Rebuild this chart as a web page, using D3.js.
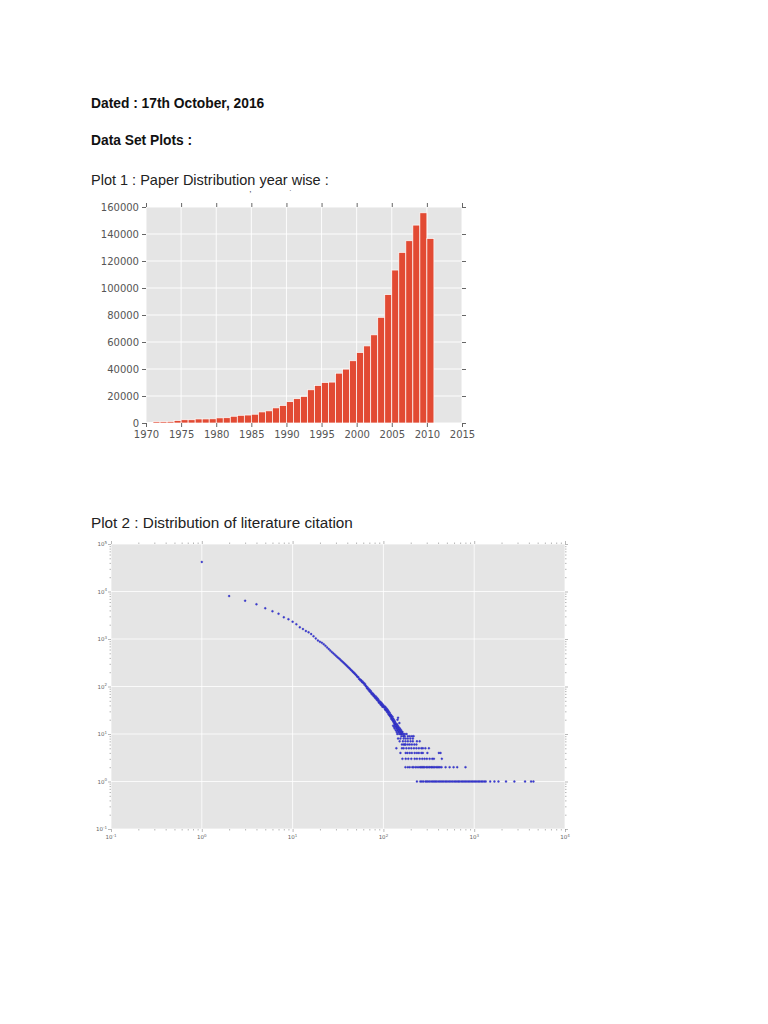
<!DOCTYPE html>
<html>
<head>
<meta charset="utf-8">
<script src="https://cdn.jsdelivr.net/npm/d3@7"></script>
<style>
  body { margin: 0; background: #fff; }
  svg { display: block; }
</style>
</head>
<body>
<div id="page"></div>
<script>
// Plot 1 data: papers per year
const years = [1970, 1971, 1972, 1973, 1974, 1975, 1976, 1977, 1978, 1979,
  1980, 1981, 1982, 1983, 1984, 1985, 1986, 1987, 1988, 1989,
  1990, 1991, 1992, 1993, 1994, 1995, 1996, 1997, 1998, 1999,
  2000, 2001, 2002, 2003, 2004, 2005, 2006, 2007, 2008, 2009, 2010];
const paperCounts = [500, 1000, 1000, 1200, 1800, 2400, 2400, 3000, 3000, 3100,
  3800, 3900, 5000, 5700, 5900, 6500, 8200, 9000, 11200, 13000,
  15800, 18000, 19700, 24600, 27800, 30000, 30300, 36900, 39900, 46100,
  52200, 57100, 65300, 78300, 95100, 113300, 126400, 135000, 146600, 155700, 136700];
const yearTicks = [1970, 1975, 1980, 1985, 1990, 1995, 2000, 2005, 2010, 2015];
const countTicks = [0, 20000, 40000, 60000, 80000, 100000, 120000, 140000, 160000];

// Plot 2 data: [citations, number of papers]
const headPoints = [[1, 42000], [2, 8000], [3, 6400], [4, 5370], [5, 4430], [6, 3830], [7, 3410],
  [8, 2860], [9, 2600], [10, 2310], [11, 2040], [12, 1760], [13, 1620], [14, 1470], [15, 1380],
  [16, 1270], [17, 1140], [18, 1030], [19, 930], [20, 870], [21, 830], [22, 775], [23, 720],
  [24, 665], [25, 615], [26, 572], [27, 535], [28, 502], [29, 472], [30, 445], [31, 420],
  [32, 398], [33, 378], [34, 358], [35, 340], [36, 323], [37, 308], [38, 293], [39, 280],
  [40, 267], [41, 255], [42, 244], [43, 233], [44, 223], [45, 214], [46, 205], [47, 197],
  [48, 189], [49, 182], [50, 175]];
const bandPoints = [[51, 167], [52, 159], [53, 156], [54, 144], [55, 142], [56, 134], [57, 135],
  [58, 125], [59, 127], [60, 118], [61, 119], [62, 109], [63, 112], [64, 102], [65, 100], [66, 92],
  [67, 95], [68, 86], [69, 89], [70, 80], [71, 84], [72, 76], [73, 79], [74, 70], [75, 73],
  [76, 67], [77, 70], [78, 63], [79, 66], [80, 61], [81, 58], [82, 62], [83, 55], [84, 59],
  [85, 52], [86, 56], [87, 50], [88, 53], [89, 46], [90, 49], [91, 45], [92, 48], [93, 42],
  [94, 46], [95, 41], [96, 44], [97, 38], [98, 42], [99, 37], [100, 40], [102, 36], [103, 38],
  [104, 33], [105, 37], [106, 32], [107, 35], [108, 31], [109, 34], [110, 29], [111, 32],
  [112, 28], [113, 31], [114, 26], [115, 29], [116, 25], [117, 28], [118, 24], [119, 26],
  [120, 23], [121, 25], [122, 21], [123, 24], [124, 22], [125, 20], [126, 23], [127, 19],
  [128, 21], [129, 18], [130, 20], [131, 17], [132, 19], [133, 16], [134, 18], [135, 15],
  [136, 17], [137, 16], [138, 14], [139, 15], [140, 13], [141, 16], [142, 14], [143, 12],
  [144, 15], [145, 13], [146, 11], [147, 14], [148, 12], [150, 13], [152, 11], [153, 12],
  [155, 10], [157, 11], [159, 10], [162, 11], [164, 10], [166, 9], [170, 9],
  [143, 20], [150, 17], [145, 22], [140, 11], [150, 11], [160, 11], [137, 12], [148, 12],
  [157, 12], [133, 13], [145, 13], [152, 13], [131, 14], [141, 14], [128, 15], [137, 15]];
const rowPapers = [10, 9, 8, 7, 6, 5, 4, 3, 2, 1];
const rowCitations = [
  [142, 149, 156, 163, 172, 180],
  [158, 171, 186, 195, 206, 215],
  [145, 154, 167, 176, 186, 198, 211],
  [151, 164, 175, 186, 199, 211, 234, 251],
  [160, 167, 172, 176, 186, 195, 206, 219, 231],
  [139, 160, 167, 179, 191, 203, 217, 231, 246, 262, 272, 290, 317],
  [154, 176, 184, 195, 206, 221, 234, 246, 262, 272, 305, 408, 426],
  [162, 176, 188, 203, 221, 234, 251, 268, 284, 301, 323, 345, 360, 440],
  [175, 186, 195, 208, 215, 226, 235, 246, 255, 262, 270, 277, 285, 297, 305, 317, 325, 337,
    345, 357, 368, 382, 395, 408, 420, 437, 484, 536, 593, 650, 802],
  [234, 255, 265, 275, 290, 300, 310, 322, 335, 348, 360, 372, 385, 400, 415, 430, 445, 462,
    480, 497, 515, 535, 555, 577, 600, 622, 645, 668, 690, 718, 745, 772, 800, 830, 860, 892,
    925, 960, 995, 1030, 1070, 1110, 1150, 1195, 1240, 1290, 1340, 1500, 1670, 1850, 2240,
    2770, 3630, 4230, 4490]
];
const logTicks = [0.1, 1, 10, 100, 1000, 10000];
const logTicksY = [0.1, 1, 10, 100, 1000, 10000, 100000];
const tickExps = ['-1', '0', '1', '2', '3', '4', '5'];

const svg = d3.select('#page').append('svg')
  .attr('width', 768)
  .attr('height', 1024);

svg.append('rect').attr('width', 768).attr('height', 1024).attr('fill', '#fff');

// headings
const heads = [
  { t: 'Dated : 17th October, 2016', y: 108, size: '13.8px', bold: true },
  { t: 'Data Set Plots :', y: 145, size: '13.8px', bold: true },
  { t: 'Plot 1 : Paper Distribution year wise :', y: 185, size: '14.5px', bold: false },
  { t: 'Plot 2 : Distribution of literature citation', y: 528, size: '15.3px', bold: false }
];
svg.selectAll('.head')
  .data(heads)
  .enter().append('text')
  .attr('class', 'head')
  .attr('x', 91)
  .attr('y', d => d.y)
  .style('font-family', '"Liberation Sans", Arial, sans-serif')
  .style('font-size', d => d.size)
  .style('font-weight', d => d.bold ? 'bold' : 'normal')
  .style('fill', d => d.bold ? '#111' : '#222')
  .text(d => d.t);

// stray marks above plot 1
svg.append('text').attr('x', 249).attr('y', 197).style('font-size', '8px').style('fill', '#444').text('ʼ');
svg.append('text').attr('x', 289).attr('y', 196).style('font-size', '8px').style('fill', '#444').text('˙');

// ---------- Plot 1 ----------
const x1 = d3.scaleLinear().domain([1970, 2015]).range([146, 462]);
const y1 = d3.scaleLinear().domain([0, 160000]).range([423, 207]);

const p1 = svg.append('g');
p1.append('rect')
  .attr('x', x1(1970)).attr('y', y1(160000))
  .attr('width', x1(2015) - x1(1970)).attr('height', y1(0) - y1(160000))
  .attr('fill', '#e5e5e5');

p1.selectAll('.vgrid').data(yearTicks).enter().append('line')
  .attr('x1', d => x1(d)).attr('x2', d => x1(d))
  .attr('y1', y1(0)).attr('y2', y1(160000))
  .style('stroke', '#fff').style('stroke-width', 0.9);
p1.selectAll('.hgrid').data(countTicks).enter().append('line')
  .attr('x1', x1(1970)).attr('x2', x1(2015))
  .attr('y1', d => y1(d)).attr('y2', d => y1(d))
  .style('stroke', '#fff').style('stroke-width', 0.9);

p1.selectAll('.bar')
  .data(years)
  .enter().append('rect')
  .attr('class', 'bar')
  .attr('x', d => x1(d))
  .attr('width', d => x1(d + 1) - x1(d))
  .attr('y', (d, i) => y1(paperCounts[i]))
  .attr('height', (d, i) => y1(0) - y1(paperCounts[i]))
  .style('fill', '#e24a33')
  .style('stroke', '#fff')
  .style('stroke-width', 0.7);

function styleAxis(g, size) {
  g.select('.domain').remove();
  g.selectAll('.tick line').style('stroke', '#666');
  g.selectAll('.tick text')
    .style('fill', '#555')
    .style('font-family', '"DejaVu Sans", sans-serif')
    .style('font-size', size);
}

p1.append('g').attr('transform', `translate(0,${y1(0)})`)
  .call(d3.axisBottom(x1).tickValues(yearTicks).tickFormat(d3.format('d')).tickSize(4).tickPadding(4))
  .call(g => styleAxis(g, '10px'));
p1.append('g').attr('transform', `translate(0,${y1(160000)})`)
  .call(d3.axisTop(x1).tickValues(yearTicks).tickFormat('').tickSize(4))
  .call(g => styleAxis(g, '10px'));
p1.append('g').attr('transform', `translate(${x1(1970)},0)`)
  .call(d3.axisLeft(y1).tickValues(countTicks).tickFormat(d3.format('d')).tickSize(4).tickPadding(3))
  .call(g => styleAxis(g, '10px'));
p1.append('g').attr('transform', `translate(${x1(2015)},0)`)
  .call(d3.axisRight(y1).tickValues(countTicks).tickFormat('').tickSize(4))
  .call(g => styleAxis(g, '10px'));

// ---------- Plot 2 ----------
const x2 = d3.scaleLog().domain([0.1, 10000]).range([111, 565]);
const y2 = d3.scaleLog().domain([0.1, 100000]).range([829, 544]);

const p2 = svg.append('g');
p2.append('rect')
  .attr('x', x2(0.1)).attr('y', y2(100000))
  .attr('width', x2(10000) - x2(0.1)).attr('height', y2(0.1) - y2(100000))
  .attr('fill', '#e5e5e5');

p2.selectAll('.vgrid').data(logTicks).enter().append('line')
  .attr('x1', d => x2(d)).attr('x2', d => x2(d))
  .attr('y1', y2(0.1)).attr('y2', y2(100000))
  .style('stroke', '#fff').style('stroke-width', 0.8);
p2.selectAll('.hgrid').data(logTicksY).enter().append('line')
  .attr('x1', x2(0.1)).attr('x2', x2(10000))
  .attr('y1', d => y2(d)).attr('y2', d => y2(d))
  .style('stroke', '#fff').style('stroke-width', 0.8);

const minorX = x2.ticks().filter(v => !logTicks.includes(v));
const minorY = y2.ticks().filter(v => !logTicksY.includes(v));

function logAxes(axis, scale, majors, minors) {
  return [
    axis(scale).tickValues(majors).tickFormat('').tickSize(3),
    axis(scale).tickValues(minors).tickFormat('').tickSize(1.5)
  ];
}
const axisPlaces = [
  [d3.axisBottom, x2, logTicks, minorX, `translate(0,${y2(0.1)})`],
  [d3.axisTop, x2, logTicks, minorX, `translate(0,${y2(100000)})`],
  [d3.axisLeft, y2, logTicksY, minorY, `translate(${x2(0.1)},0)`],
  [d3.axisRight, y2, logTicksY, minorY, `translate(${x2(10000)},0)`]
];
axisPlaces.forEach(([axis, scale, majors, minors, tr]) => {
  logAxes(axis, scale, majors, minors).forEach(a => {
    p2.append('g').attr('transform', tr).call(a)
      .call(g => { g.select('.domain').remove(); g.selectAll('.tick line').style('stroke', '#888').style('stroke-width', 0.6); });
  });
});

// tick labels 10^n
function powLabel(sel) {
  sel.style('font-family', '"DejaVu Sans", sans-serif')
    .style('font-size', '5.5px')
    .style('fill', '#666');
  sel.append('tspan').text('10');
  sel.append('tspan').attr('dy', -2.5).style('font-size', '4px').text((d, i) => tickExps[i]);
}
p2.selectAll('.xlab').data(logTicks).enter().append('text')
  .attr('x', d => x2(d)).attr('y', y2(0.1) + 10)
  .attr('text-anchor', 'middle')
  .call(powLabel);
p2.selectAll('.ylab').data(logTicksY).enter().append('text')
  .attr('x', x2(0.1) - 4).attr('y', d => y2(d) + 2)
  .attr('text-anchor', 'end')
  .call(powLabel);

const rowPoints = rowPapers.flatMap((n, i) => rowCitations[i].map(c => [c, n]));
const allPoints = headPoints.concat(bandPoints, rowPoints);

p2.selectAll('.pt')
  .data(allPoints)
  .enter().append('circle')
  .attr('class', 'pt')
  .attr('cx', d => x2(d[0]))
  .attr('cy', d => y2(d[1]))
  .attr('r', 1.0)
  .style('fill', '#3a3adc')
  .style('stroke', '#2a2aa0')
  .style('stroke-width', 0.3);
</script>
</body>
</html>
